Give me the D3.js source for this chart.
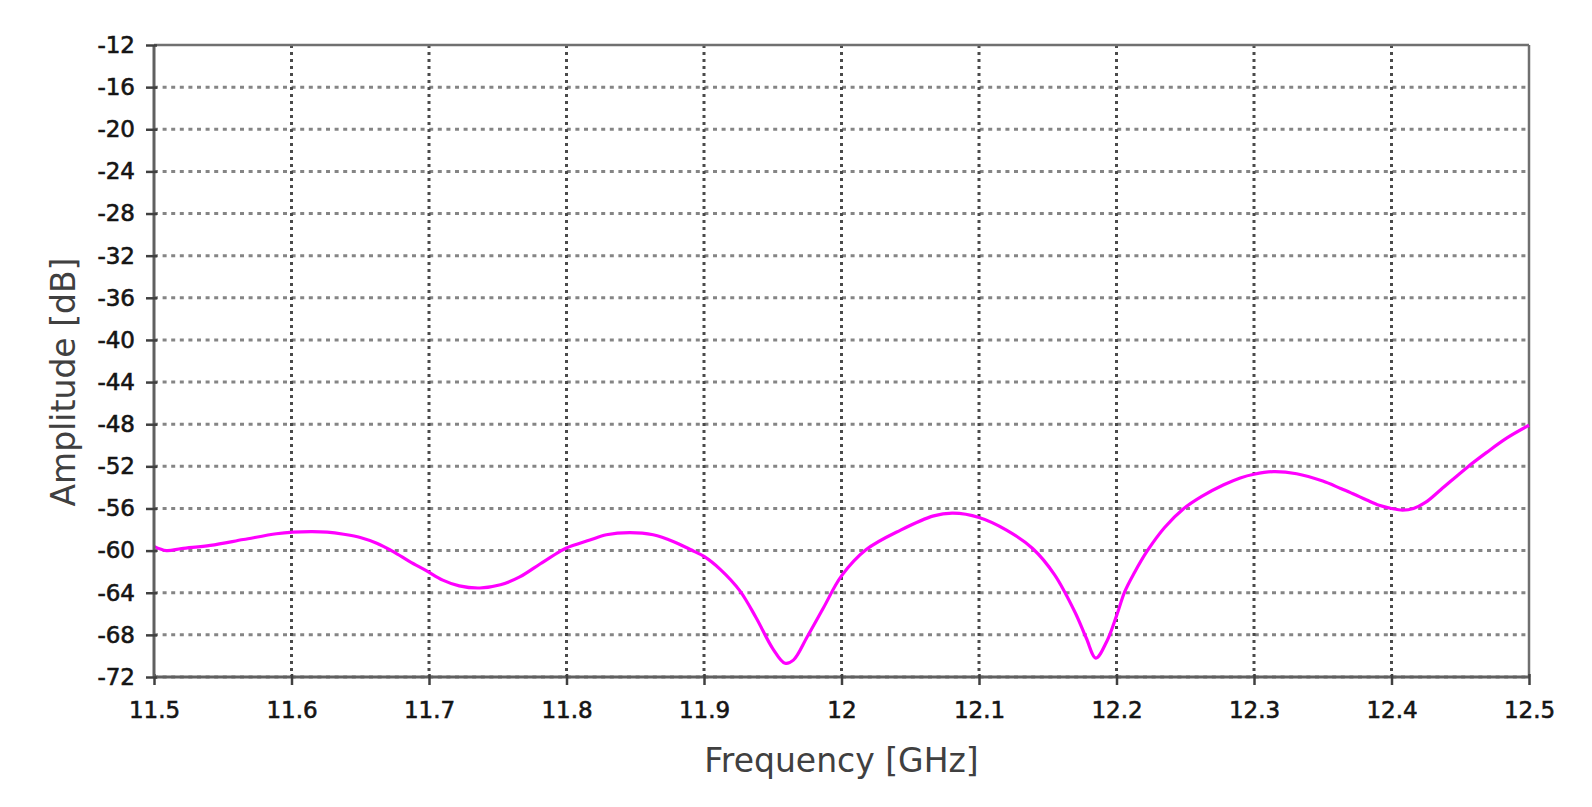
<!DOCTYPE html>
<html lang="en">
<head>
    <meta charset="utf-8">
    <title>Amplitude vs Frequency</title>
    <script type="text/javascript" src="https://cdnjs.cloudflare.com/ajax/libs/d3/7.8.5/d3.min.js"></script>
    <style>
        body { margin: 0; background: #fff; }
        svg { display: block; }
    </style>
</head>
<body>
    <script type="text/javascript">
    // frequency in GHz, amplitude in dB
    var freq = [11.500, 11.509, 11.520, 11.541, 11.565, 11.589, 11.601, 11.615, 11.626, 11.638,
                11.650, 11.662, 11.674, 11.686, 11.698, 11.710, 11.722, 11.737, 11.752, 11.766,
                11.781, 11.795, 11.800, 11.817, 11.829, 11.846, 11.863, 11.878, 11.890, 11.900,
                11.912, 11.926, 11.938, 11.950, 11.959, 11.965, 11.975, 11.987, 12.000, 12.018,
                12.043, 12.067, 12.081, 12.100, 12.120, 12.139, 12.155, 12.170, 12.178, 12.185,
                12.193, 12.200, 12.206, 12.213, 12.222, 12.235, 12.249, 12.262, 12.278,
                12.290, 12.300, 12.314, 12.331, 12.350, 12.363, 12.372, 12.382, 12.391, 12.400,
                12.408, 12.416, 12.425, 12.436, 12.455, 12.469, 12.484, 12.500];
    var amp  = [-59.6, -60.0, -59.8, -59.5, -58.95, -58.4, -58.25, -58.2, -58.25, -58.45,
                -58.75, -59.3, -60.1, -61.05, -61.9, -62.8, -63.35, -63.55, -63.25, -62.5,
                -61.25, -60.1, -59.75, -59.0, -58.5, -58.3, -58.5, -59.15, -59.9, -60.55,
                -61.8, -63.8, -66.4, -69.3, -70.7, -70.4, -68.2, -65.4, -62.4, -59.9,
                -58.05, -56.7, -56.45, -56.85, -58.05, -59.8, -62.3, -65.9, -68.3, -70.2,
                -68.6, -66.2, -63.9, -62.1, -60.1, -57.8, -56.0, -54.85, -53.75,
                -53.1, -52.75, -52.5, -52.7, -53.4, -54.1, -54.6, -55.2, -55.7, -56.0,
                -56.15, -56.0, -55.4, -54.2, -52.1, -50.7, -49.3, -48.1];

    var xTicks = [11.5, 11.6, 11.7, 11.8, 11.9, 12, 12.1, 12.2, 12.3, 12.4, 12.5];
    var yTicks = [-12, -16, -20, -24, -28, -32, -36, -40, -44, -48, -52, -56, -60, -64, -68, -72];

    var data = freq.map(function(f, i) { return {f: f, a: amp[i]}; });

    // set the dimensions and margins of the graph
    var margin = {top: 45, right: 63, bottom: 130, left: 154},
        width = 1592 - margin.left - margin.right,
        height = 807 - margin.top - margin.bottom;

    var x = d3.scaleLinear().domain([11.5, 12.5]).range([0, width]);
    var y = d3.scaleLinear().domain([-72, -12]).range([height, 0]);

    var svg = d3.select("body").append("svg")
        .attr("width", 1592)
        .attr("height", 807)
        .append("g")
          .attr("transform", "translate(" + margin.left + "," + margin.top + ")");

    var tickFont = "'DejaVu Sans', Verdana, sans-serif";

    // horizontal grid
    svg.append("g")
        .selectAll("line")
        .data(yTicks.slice(1))
        .enter().append("line")
          .attr("x1", 0).attr("x2", width)
          .attr("y1", function(d) { return y(d); })
          .attr("y2", function(d) { return y(d); })
          .attr("stroke", "#858585")
          .attr("stroke-width", 3)
          .attr("stroke-dasharray", "4,4.6");

    // vertical grid
    svg.append("g")
        .selectAll("line")
        .data(xTicks.slice(1, -1))
        .enter().append("line")
          .attr("x1", function(d) { return x(d); })
          .attr("x2", function(d) { return x(d); })
          .attr("y1", 0).attr("y2", height)
          .attr("stroke", "#4a4a4a")
          .attr("stroke-width", 3)
          .attr("stroke-dasharray", "3,4");

    // top and right frame
    svg.append("line").attr("x1", 0).attr("x2", width).attr("y1", 0).attr("y2", 0)
        .attr("stroke", "#707070").attr("stroke-width", 2.5);
    svg.append("line").attr("x1", width).attr("x2", width).attr("y1", 0).attr("y2", height)
        .attr("stroke", "#707070").attr("stroke-width", 2.5);

    // the curve
    var line = d3.line()
        .x(function(d) { return x(d.f); })
        .y(function(d) { return y(d.a); })
        .curve(d3.curveCatmullRom.alpha(0.5));

    svg.append("path")
        .datum(data)
        .attr("fill", "none")
        .attr("stroke", "#ff00ff")
        .attr("stroke-width", 3.2)
        .attr("stroke-linejoin", "round")
        .attr("d", line);

    // add the x Axis
    var xAxis = svg.append("g")
        .attr("transform", "translate(0," + height + ")")
        .call(d3.axisBottom(x).tickValues(xTicks).tickSize(8).tickPadding(17)
              .tickFormat(function(d) { return String(+d.toFixed(1)); }));

    // add the y Axis
    var yAxis = svg.append("g")
        .call(d3.axisLeft(y).tickValues(yTicks).tickSize(8).tickPadding(11)
              .tickFormat(function(d) { return String(d); }));

    [xAxis, yAxis].forEach(function(ax) {
        ax.select(".domain").attr("stroke", "#606060").attr("stroke-width", 3);
        ax.selectAll(".tick line").attr("stroke", "#404040").attr("stroke-width", 2.5);
        ax.selectAll(".tick text")
            .attr("fill", "#151515")
            .attr("stroke", "#151515")
            .attr("stroke-width", 0.6)
            .style("font-family", tickFont)
            .style("font-size", "23px");
    });
    xAxis.selectAll(".tick line").attr("y1", -3);
    yAxis.selectAll(".tick line").attr("x1", 3);
    yAxis.select(".domain").attr("d", "M0," + height + "V0");
    xAxis.select(".domain").attr("d", "M0,0H" + width);

    // axis titles
    svg.append("text")
        .attr("x", width / 2)
        .attr("y", height + 95)
        .attr("text-anchor", "middle")
        .attr("fill", "#404040")
        .style("font-family", tickFont)
        .style("font-size", "33px")
        .text("Frequency [GHz]");

    svg.append("text")
        .attr("transform", "translate(" + (-91) + "," + (337) + ") rotate(-90)")
        .attr("text-anchor", "middle")
        .attr("dy", "0.35em")
        .attr("fill", "#404040")
        .style("font-family", tickFont)
        .style("font-size", "33px")
        .text("Amplitude [dB]");
    </script>
</body>
</html>
